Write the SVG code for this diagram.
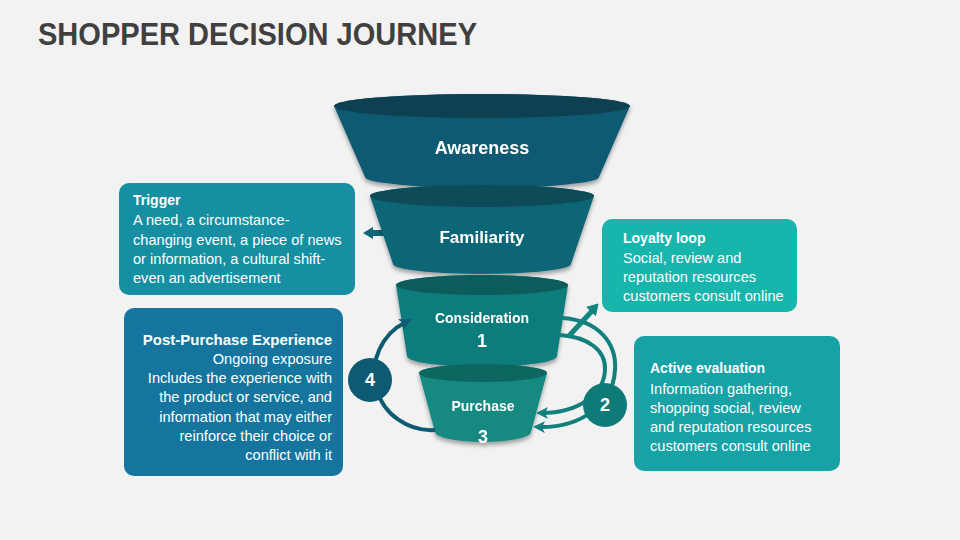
<svg xmlns="http://www.w3.org/2000/svg" width="960" height="540" viewBox="0 0 960 540">
<defs>
<style>
.t{font-family:"Liberation Sans",Arial,sans-serif;fill:#fff}
.b{font-weight:bold}
.body{font-size:14.6px}
.fl{font-weight:bold;text-anchor:middle}
.num{font-family:"Liberation Sans",Arial,sans-serif;font-weight:bold;font-size:18px;fill:#fff;text-anchor:middle}
.arc2{fill:none;stroke:#12807c;stroke-width:4}
</style>
<filter id="sh" x="-10%" y="-10%" width="120%" height="140%">
<feDropShadow dx="0" dy="3" stdDeviation="2" flood-color="#000" flood-opacity="0.35"/>
</filter>
<marker id="ah4" markerUnits="userSpaceOnUse" markerWidth="12" markerHeight="12" viewBox="0 0 12 12" refX="6" refY="6" orient="auto">
<path d="M0,0 L12,6 L0,12 L3,6 Z" fill="#0d5a73"/>
</marker>
<marker id="ah2" markerUnits="userSpaceOnUse" markerWidth="12" markerHeight="12" viewBox="0 0 12 12" refX="6" refY="6" orient="auto">
<path d="M0,0 L12,6 L0,12 L3,6 Z" fill="#12807c"/>
</marker>
</defs>
<rect width="960" height="540" fill="#f2f2f2"/>
<text x="38" y="45" font-family="Liberation Sans, Arial, sans-serif" font-weight="bold" font-size="32" fill="#404040" textLength="439" lengthAdjust="spacingAndGlyphs">SHOPPER DECISION JOURNEY</text>

<g id="trigger-arrow">
<path d="M363,233 L373,227 L373,230 L392,230 L392,236 L373,236 L373,239 Z" fill="#0e6677"/>
</g>

<g id="awareness" filter="url(#sh)">
<path d="M334,106 L365,177 A117,11 0 0 0 599,177 L630,106 A148,12 0 0 0 334,106 Z" fill="#0f5a72"/>
<ellipse cx="482" cy="106" rx="148" ry="12" fill="#0a4051"/>
<text class="t fl" x="482" y="154" font-size="18">Awareness</text>
</g>
<g id="familiarity" filter="url(#sh)">
<path d="M370,196 L393,264 A89,10 0 0 0 571,264 L594,196 A112,11 0 0 0 370,196 Z" fill="#0f6675"/>
<ellipse cx="482" cy="196" rx="112" ry="11" fill="#0b4b57"/>
<text class="t fl" x="482" y="243" font-size="17">Familiarity</text>
</g>
<g id="consideration" filter="url(#sh)">
<path d="M396,285 L407,356 A75,11 0 0 0 557,356 L568,285 A86,10 0 0 0 396,285 Z" fill="#107b7b"/>
<ellipse cx="482" cy="285" rx="86" ry="10" fill="#0c5c5c"/>
<text class="t fl" x="482" y="323" font-size="14">Consideration</text>
<text class="t fl" x="482" y="347" font-size="18">1</text>
</g>
<g id="purchase" filter="url(#sh)">
<path d="M419,373 L435,432 A48,10 0 0 0 531,432 L547,373 A64,9 0 0 0 419,373 Z" fill="#128a80"/>
<ellipse cx="483" cy="373" rx="64" ry="9" fill="#0e6660"/>
<text class="t fl" x="483" y="411" font-size="14">Purchase</text>
<text class="t fl" x="483" y="443" font-size="18">3</text>
</g>

<g id="connectors">
<path d="M435,430 A57,57 0 0 1 406,322" fill="none" stroke="#0d5a73" stroke-width="4" marker-end="url(#ah4)"/>
<path class="arc2" d="M562,318 C598,320 617,343 615,370 C613,405 580,428 539,427" marker-end="url(#ah2)"/>
<path class="arc2" d="M560,335 C588,337 606,350 605,370 C604,395 577,413 542,413" marker-end="url(#ah2)"/>
<line x1="568" y1="337" x2="592" y2="311" stroke="#12857f" stroke-width="5"/>
<path d="M598,304 L595.6,315.4 L586.8,307.2 Z" fill="#12857f" stroke="#12857f" stroke-width="1"/>
</g>

<g id="step4">
<circle cx="370" cy="380" r="22" fill="#0d5a73"/>
<text class="num" x="370" y="386">4</text>
</g>
<g id="step2">
<circle cx="605" cy="405" r="22" fill="#0f7b78"/>
<text class="num" x="605" y="411">2</text>
</g>

<g id="trigger">
<rect x="119" y="183" width="236" height="112" rx="10" fill="#168fa3"/>
<text class="t b" x="133" y="205" font-size="14">Trigger</text>
<text class="t body" x="133" y="225">A need, a circumstance-</text>
<text class="t body" x="133" y="245">changing event, a piece of news</text>
<text class="t body" x="133" y="264">or information, a cultural shift-</text>
<text class="t body" x="133" y="283">even an advertisement</text>
</g>

<g id="post-purchase">
<rect x="124" y="308" width="219" height="168" rx="10" fill="#15759e"/>
<text class="t b" x="332" y="345" font-size="15" text-anchor="end">Post-Purchase Experience</text>
<g text-anchor="end">
<text class="t body" x="332" y="364">Ongoing exposure</text>
<text class="t body" x="332" y="383">Includes the experience with</text>
<text class="t body" x="332" y="402">the product or service, and</text>
<text class="t body" x="332" y="422">information that may either</text>
<text class="t body" x="332" y="441">reinforce their choice or</text>
<text class="t body" x="332" y="460">conflict with it</text>
</g>
</g>

<g id="loyalty-loop">
<rect x="602" y="219" width="195" height="93" rx="10" fill="#17b5ac"/>
<text class="t b" x="623" y="243" font-size="14">Loyalty loop</text>
<text class="t body" x="623" y="263">Social, review and</text>
<text class="t body" x="623" y="282">reputation resources</text>
<text class="t body" x="623" y="301">customers consult online</text>
</g>

<g id="active-evaluation">
<rect x="634" y="336" width="206" height="135" rx="10" fill="#17a2a6"/>
<text class="t b" x="650" y="373" font-size="14">Active evaluation</text>
<text class="t body" x="650" y="394">Information gathering,</text>
<text class="t body" x="650" y="413">shopping social, review</text>
<text class="t body" x="650" y="432">and reputation resources</text>
<text class="t body" x="650" y="451">customers consult online</text>
</g>
</svg>
